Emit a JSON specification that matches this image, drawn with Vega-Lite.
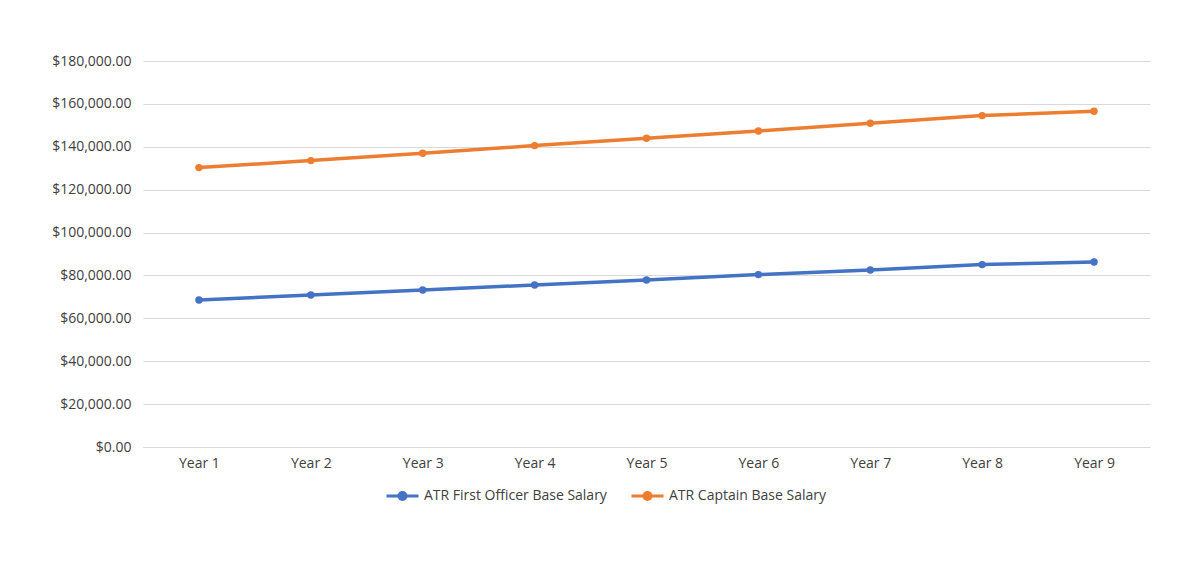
{
  "$schema": "https://vega.github.io/schema/vega-lite/v6.json",
  "width": 1007,
  "height": 386,
  "autosize": {"type": "none"},
  "padding": {"left": 143, "top": 61, "right": 50, "bottom": 114},
  "background": "white",
  "config": {
    "view": {"stroke": null},
    "font": "Open Sans",
    "axis": {"labelFont": "Open Sans", "labelFontSize": 14, "labelColor": "#404040"},
    "legend": {"labelFont": "Open Sans", "labelFontSize": 14, "labelColor": "#404040"}
  },
  "data": {
    "values": [
      {"year": "Year 1", "series": "ATR First Officer Base Salary", "salary": 68550},
      {"year": "Year 2", "series": "ATR First Officer Base Salary", "salary": 70880},
      {"year": "Year 3", "series": "ATR First Officer Base Salary", "salary": 73210},
      {"year": "Year 4", "series": "ATR First Officer Base Salary", "salary": 75540},
      {"year": "Year 5", "series": "ATR First Officer Base Salary", "salary": 77880},
      {"year": "Year 6", "series": "ATR First Officer Base Salary", "salary": 80390},
      {"year": "Year 7", "series": "ATR First Officer Base Salary", "salary": 82540},
      {"year": "Year 8", "series": "ATR First Officer Base Salary", "salary": 85060},
      {"year": "Year 9", "series": "ATR First Officer Base Salary", "salary": 86270},
      {"year": "Year 1", "series": "ATR Captain Base Salary", "salary": 130290},
      {"year": "Year 2", "series": "ATR Captain Base Salary", "salary": 133560},
      {"year": "Year 3", "series": "ATR Captain Base Salary", "salary": 136960},
      {"year": "Year 4", "series": "ATR Captain Base Salary", "salary": 140550},
      {"year": "Year 5", "series": "ATR Captain Base Salary", "salary": 143950},
      {"year": "Year 6", "series": "ATR Captain Base Salary", "salary": 147360},
      {"year": "Year 7", "series": "ATR Captain Base Salary", "salary": 150950},
      {"year": "Year 8", "series": "ATR Captain Base Salary", "salary": 154540},
      {"year": "Year 9", "series": "ATR Captain Base Salary", "salary": 156540}
    ]
  },
  "mark": {"type": "line", "strokeWidth": 3.5, "point": {"filled": true, "size": 55}},
  "encoding": {
    "x": {
      "field": "year", "type": "ordinal",
      "scale": {"type": "point", "padding": 0.5},
      "axis": {"title": null, "labelAngle": 0, "ticks": false, "domainColor": "#d9d9d9", "domainWidth": 1, "labelPadding": 9, "grid": false}
    },
    "y": {
      "field": "salary", "type": "quantitative",
      "scale": {"domain": [0, 180000], "nice": false},
      "axis": {"title": null, "format": "$,.2f", "values": [0,20000,40000,60000,80000,100000,120000,140000,160000,180000], "ticks": false, "domain": false, "gridColor": "#d9d9d9", "labelPadding": 12}
    },
    "color": {
      "field": "series", "type": "nominal",
      "scale": {"domain": ["ATR First Officer Base Salary", "ATR Captain Base Salary"], "range": ["#4472C4", "#ED7D31"]},
      "legend": {
        "title": null, "orient": "none", "direction": "horizontal",
        "legendX": 242, "legendY": 417,
        "symbolType": "M-1,0H1M-0.22,0A0.22,0.22,0,1,1,0.22,0A0.22,0.22,0,1,1,-0.22,0Z",
        "symbolSize": 1024, "symbolStrokeWidth": 3, "columnPadding": 18, "labelLimit": 400, "labelOffset": 4
      }
    }
  }
}
